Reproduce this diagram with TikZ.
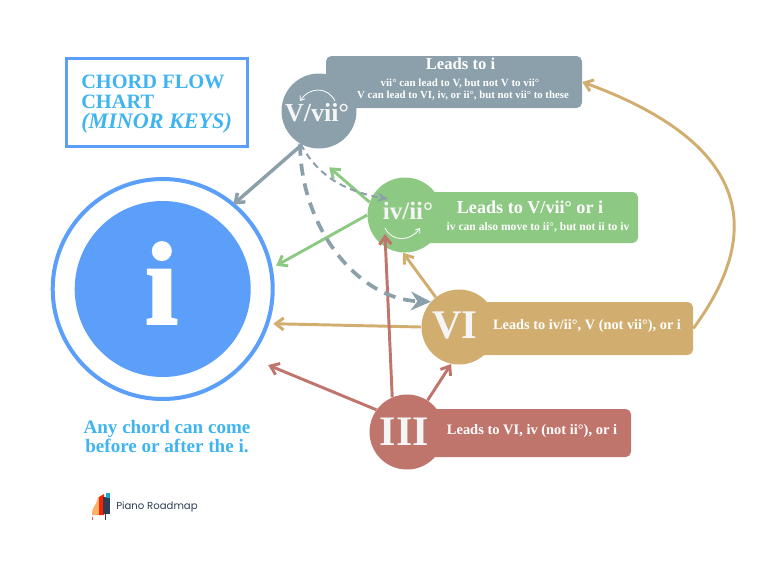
\documentclass[tikz,border=0pt]{standalone}
\usepackage{fontspec}
\setmainfont{Liberation Serif}
\newfontfamily\logofont{Poppins}
\newfontfamily\bigifont[BoldFeatures={FakeBold=2}]{Liberation Serif}
\usetikzlibrary{arrows.meta}

\definecolor{chordslate}{HTML}{8BA0AA}
\definecolor{chordgreen}{HTML}{8DC983}
\definecolor{chordtan}{HTML}{D1AE70}
\definecolor{chordrose}{HTML}{BF756C}
\definecolor{chordblue}{HTML}{5B9FFB}
\definecolor{titleblue}{HTML}{3FB4F0}
\definecolor{softwhite}{HTML}{F5F5F5}
\definecolor{logonavy}{HTML}{2E3F55}

\tikzset{
    chordcircle/.style={circle, minimum size=56.25pt, inner sep=0pt},
    chordbox/.style={rectangle, rounded corners=4pt, inner sep=0pt},
    chordname/.style={softwhite, inner sep=0pt, font=\bfseries\fontsize{#1}{#1}\selectfont},
    leadnote/.style={white, inner sep=0pt, font=\bfseries\fontsize{#1}{#1}\selectfont},
    titleline/.style={anchor=base west, titleblue, inner sep=0pt, font=\bfseries\fontsize{15.3}{15.3}\selectfont},
    captionline/.style={anchor=base, titleblue, inner sep=0pt, font=\bfseries\fontsize{14.3}{14.3}\selectfont},
    flow/.style={-{Straight Barb[length=6pt, width=9pt]}, line width=2.2pt},
    turn/.style={-{Straight Barb[length=3pt, width=4.5pt]}, white, line width=0.6pt}
}

\begin{document}
\begin{tikzpicture}[x=0.75pt, y=-0.75pt]
    \useasboundingbox (0, 0) rectangle (768, 576);

    \draw
    (454, 82) node[chordbox, fill=chordslate, minimum width=192pt, minimum height=39pt](vbox){}
    (529, 217.5) node[chordbox, fill=chordgreen, minimum width=163.5pt, minimum height=38.25pt](ivbox){}
    (581.5, 328.5) node[chordbox, fill=chordtan, minimum width=167.25pt, minimum height=39.75pt](vibox){}
    (525.5, 433) node[chordbox, fill=chordrose, minimum width=158.25pt, minimum height=36pt](iiibox){};

    \draw
    (319, 111) node[chordcircle, fill=chordslate](vchord){}
    (405, 215) node[chordcircle, fill=chordgreen](ivchord){}
    (459, 327) node[chordcircle, fill=chordtan](vichord){}
    (407, 432) node[chordcircle, fill=chordrose](iiichord){}
    (162.7, 289) node[circle, draw=chordblue, fill=white, line width=3pt, minimum size=165pt, inner sep=0pt](iring){}
    (162.7, 289) node[circle, fill=chordblue, minimum size=132pt, inner sep=0pt](ichord){};

    \coordinate (ivinner) at (388, 199);

    \draw
    (317, 113) node[chordname=19.5](vtext){V/vii°}
    (408, 211) node[chordname=18.75](ivtext){iv/ii°}
    (455, 325.5) node[chordname=30.5](vitext){VI}
    (404.5, 432) node[chordname=31.5](iiitext){III}
    (161.5, 283) node[white, inner sep=0pt, font=\bigifont\bfseries\fontsize{88}{88}\selectfont](itext){i};

    \draw
    (460.5, 64) node[leadnote=12.5](vhead){Leads to i}
    (460, 83.5) node[leadnote=8.2](vnotea){vii° can lead to V, but not V to vii°}
    (463, 96) node[leadnote=8.1](vnoteb){V can lead to VI, iv, or ii°, but not vii° to these}
    (530, 207) node[leadnote=13.6](ivhead){Leads to V/vii° or i}
    (538, 227) node[leadnote=8.7](ivnote){iv can also move to ii°, but not ii to iv}
    (587, 326) node[leadnote=10.75](vinote){Leads to iv/ii°, V (not vii°), or i}
    (532, 431) node[leadnote=10.85](iiinote){Leads to VI, iv (not ii°), or i};

    \draw[chordblue, line width=2.25pt] (66.5, 58.5) rectangle (247.5, 146.5);
    \draw
    (81, 88.5) node[titleline](titlea){CHORD FLOW}
    (81, 108) node[titleline](titleb){CHART}
    (81, 128) node[titleline, font=\bfseries\itshape\fontsize{16.6}{16.6}\selectfont](titlec){(MINOR KEYS)}
    (167, 433) node[captionline](capa){Any chord can come}
    (167, 452) node[captionline](capb){before or after the i.};

    \draw[flow, chordslate, line width=2.6pt, shorten >=-1.5pt] (vchord.243) -- (iring.50);
    \draw[flow, chordgreen, shorten >=24.75pt] (ivchord.160) -- (vchord.247);
    \draw[flow, chordgreen, shorten >=3pt] (ivchord.180) -- (iring.11.5);
    \draw[flow, chordtan] (vichord.128) -- (ivchord.267);
    \draw[flow, chordtan, shorten >=3pt] (vichord.180) -- (iring.-18);
    \draw[flow, chordrose, shorten >=-10pt] (iiichord.113) -- (ivchord.239);
    \draw[flow, chordrose] (iiichord.57) -- (vichord.258);
    \draw[flow, chordrose, shorten >=14pt] (iiichord.144) -- (iring.-38);
    \draw[flow, chordtan] (vibox.east) .. controls (777, 215) and (728, 135) .. (vbox.east);

    \draw[-{Stealth[length=8pt, width=7pt]}, chordslate, line width=1.5pt, dash pattern=on 5pt off 3.5pt]
    (vchord.241) .. controls (320, 180) and (350, 192) .. (ivinner);
    \draw[-{Stealth[length=15pt, width=14pt]}, chordslate, line width=2.8pt, dash pattern=on 9pt off 6pt]
    (vchord.240) .. controls (300, 225) and (356, 299) .. (vichord.138);

    \draw[turn] (335, 101) .. controls (328, 87) and (310, 86) .. (300, 101);
    \draw[turn] (385, 228) .. controls (392, 242) and (410, 242) .. (420, 228);

    \fill[chordrose!80!red] (92, 517) rectangle (93, 520);
    \fill[logonavy] (105, 514) rectangle (106, 520);
    \fill[orange!60] (92, 515) .. controls (92, 505) and (96, 508) .. (98, 497) -- (100, 497) -- (100, 515) -- cycle;
    \fill[red!75!orange] (99, 515) -- (99, 497) -- (104, 494) -- (104, 515) -- cycle;
    \fill[logonavy] (103, 514) -- (103, 497) -- (110, 497) -- (110, 514) -- cycle;
    \fill[cyan!70!teal] (106, 493) rectangle (110, 498);
    \draw (116, 507) node[anchor=west, logonavy, inner sep=0pt, font=\logofont\fontsize{7.6}{7.6}\selectfont](logotext){Piano Roadmap};
\end{tikzpicture}
\end{document}
